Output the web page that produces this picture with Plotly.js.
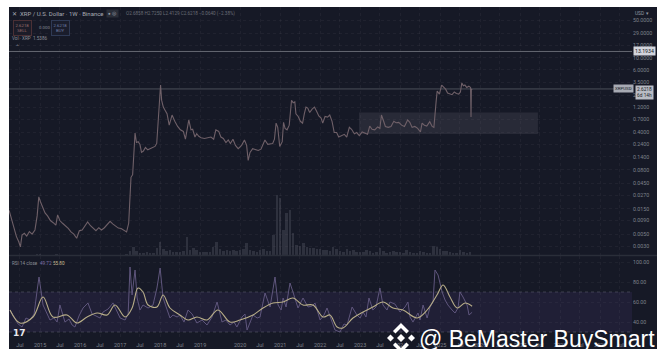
<!DOCTYPE html>
<html>
<head>
<meta charset="utf-8">
<script src="https://cdn.plot.ly/plotly-3.0.1.min.js"></script>
<style>
html,body{margin:0;padding:0;background:#ffffff;}
#chart{width:665px;height:361px;}
</style>
</head>
<body>
<div id="chart"></div>
<script>
// ---------------- DATA ----------------
const priceDates = ['2014-03-24','2014-04-15','2014-05-10','2014-05-30','2014-06-20','2014-07-05','2014-07-20','2014-08-10','2014-09-01','2014-09-25','2014-10-20','2014-11-15','2014-12-05','2014-12-20',
'2015-01-05','2015-01-25','2015-02-15','2015-03-10','2015-04-05','2015-05-01','2015-05-25','2015-06-10','2015-06-30','2015-07-25','2015-08-20','2015-09-15','2015-10-10','2015-11-05','2015-12-01','2015-12-25',
'2016-01-20','2016-02-15','2016-03-10','2016-04-05','2016-05-01','2016-05-25','2016-06-20','2016-07-15','2016-08-10','2016-09-05','2016-10-01','2016-10-25','2016-11-20','2016-12-15',
'2017-01-10','2017-02-05','2017-03-01','2017-03-20','2017-04-01','2017-04-10','2017-04-25','2017-05-10','2017-05-17','2017-05-30','2017-06-15','2017-07-01','2017-07-15','2017-08-01','2017-08-20','2017-09-10','2017-10-01','2017-10-20','2017-11-15','2017-12-01','2017-12-15','2017-12-25',
'2018-01-05','2018-01-15','2018-01-30','2018-02-15','2018-03-05','2018-03-25','2018-04-20','2018-05-15','2018-06-10','2018-07-05','2018-08-01','2018-08-20','2018-09-20','2018-10-10','2018-10-25','2018-11-15','2018-12-01','2018-12-20',
'2019-01-10','2019-02-10','2019-03-10','2019-04-10','2019-05-05','2019-05-25','2019-06-20','2019-07-10','2019-08-01','2019-08-25','2019-09-15','2019-10-05','2019-10-28','2019-11-20','2019-12-15',
'2020-01-15','2020-02-10','2020-03-01','2020-03-15','2020-04-01','2020-04-25','2020-05-20','2020-06-15','2020-07-10','2020-07-30','2020-08-15','2020-09-10','2020-10-05','2020-10-25','2020-11-10','2020-11-25','2020-12-10','2020-12-28',
'2021-01-20','2021-02-01','2021-02-15','2021-03-05','2021-03-25','2021-04-05','2021-04-15','2021-04-30','2021-05-15','2021-05-25','2021-06-15','2021-07-05','2021-07-25','2021-08-10','2021-08-25','2021-09-10','2021-09-28','2021-10-20','2021-11-10','2021-11-30','2021-12-20',
'2022-01-10','2022-01-25','2022-02-15','2022-03-10','2022-03-30','2022-04-20','2022-05-10','2022-06-01','2022-06-20','2022-07-15','2022-08-10','2022-09-01','2022-09-25','2022-10-15','2022-11-10','2022-12-01','2022-12-25',
'2023-01-20','2023-02-15','2023-03-10','2023-03-30','2023-04-20','2023-05-15','2023-06-10','2023-07-01','2023-07-15','2023-08-01','2023-08-20','2023-09-15','2023-10-10','2023-11-05','2023-11-25','2023-12-20',
'2024-01-15','2024-02-10','2024-03-10','2024-03-30','2024-04-20','2024-05-15','2024-06-10','2024-07-05','2024-07-20','2024-08-10','2024-09-01','2024-09-28','2024-10-20','2024-11-05','2024-11-15','2024-11-25','2024-12-05','2024-12-25',
'2025-01-15','2025-02-01','2025-02-20','2025-03-10','2025-03-30','2025-04-20','2025-05-10','2025-05-30','2025-06-20','2025-07-05','2025-07-18','2025-08-01','2025-08-15','2025-09-01','2025-09-20','2025-10-06','2025-10-10','2025-10-13','2025-10-20'];
const priceValues = [0.0140,0.0095,0.0060,0.0045,0.0036,0.0029,0.0048,0.0052,0.0046,0.0056,0.0050,0.0060,0.0110,0.0250,
0.0200,0.0160,0.0125,0.0110,0.0090,0.0082,0.0074,0.0115,0.0090,0.0080,0.0072,0.0064,0.0055,0.0050,0.0042,0.0058,
0.0060,0.0072,0.0085,0.0072,0.0065,0.0058,0.0066,0.0060,0.0066,0.0075,0.0087,0.0078,0.0070,0.0065,
0.0064,0.0060,0.0055,0.0080,0.0330,0.0580,0.0650,0.2500,0.3900,0.2600,0.2700,0.2400,0.1700,0.1800,0.2100,0.1900,0.2000,0.2100,0.2200,0.2500,0.7500,1.1000,
3.1000,1.6000,1.2000,1.0500,0.9000,0.5500,0.8500,0.6500,0.5200,0.4500,0.4200,0.3000,0.6900,0.4500,0.4600,0.3300,0.3800,0.3400,
0.3200,0.3100,0.3200,0.3300,0.3000,0.4500,0.4200,0.3300,0.3100,0.2600,0.2900,0.2500,0.3000,0.2300,0.2000,
0.2300,0.2900,0.2300,0.1200,0.1700,0.2000,0.1950,0.1850,0.1950,0.2500,0.2900,0.2400,0.2500,0.2500,0.3000,0.6000,0.5000,0.2200,
0.2700,0.6200,0.4800,0.4500,0.5500,1.0000,1.6000,1.4500,1.5000,0.9000,0.8000,0.6500,0.6000,0.9000,1.2000,1.1500,0.9500,1.1000,1.2000,1.0000,0.8200,
0.7500,0.6000,0.8000,0.7800,0.8500,0.6500,0.4000,0.4000,0.3300,0.3500,0.3700,0.3300,0.5000,0.4600,0.3800,0.4000,0.3500,
0.4100,0.3900,0.3700,0.5300,0.4600,0.4500,0.5100,0.4800,0.8500,0.6800,0.5200,0.5000,0.5200,0.6500,0.6100,0.6200,
0.5500,0.5200,0.6900,0.6200,0.5000,0.5200,0.4800,0.4100,0.6000,0.5500,0.5300,0.6400,0.5200,0.5000,1.1000,1.5000,2.4000,2.1000,
3.1000,2.9000,2.6000,2.2000,2.1000,2.0500,2.3000,2.1500,2.1000,2.3000,3.4000,3.0000,3.1000,2.8000,2.9500,2.8000,0.7800,2.5000,2.6218];

const volDates = ['2014-04','2014-05','2014-06','2014-07','2014-08','2014-09','2014-10','2014-11','2014-12',
'2015-01','2015-02','2015-03','2015-04','2015-05','2015-06','2015-07','2015-08','2015-09','2015-10','2015-11','2015-12',
'2016-01','2016-02','2016-03','2016-04','2016-05','2016-06','2016-07','2016-08','2016-09','2016-10','2016-11','2016-12',
'2017-01','2017-02','2017-03','2017-04','2017-05','2017-06','2017-07','2017-08','2017-09','2017-10','2017-11','2017-12',
'2018-01','2018-02','2018-03','2018-04','2018-05','2018-06','2018-07','2018-08','2018-09','2018-10','2018-11','2018-12',
'2019-01','2019-02','2019-03','2019-04','2019-05','2019-06','2019-07','2019-08','2019-09','2019-10','2019-11','2019-12',
'2020-01','2020-02','2020-03','2020-04','2020-05','2020-06','2020-07','2020-08','2020-09','2020-10','2020-11','2020-12',
'2021-01','2021-02','2021-03','2021-04','2021-05','2021-06','2021-07','2021-08','2021-09','2021-10','2021-11','2021-12',
'2022-01','2022-02','2022-03','2022-04','2022-05','2022-06','2022-07','2022-08','2022-09','2022-10','2022-11','2022-12',
'2023-01','2023-02','2023-03','2023-04','2023-05','2023-06','2023-07','2023-08','2023-09','2023-10','2023-11','2023-12',
'2024-01','2024-02','2024-03','2024-04','2024-05','2024-06','2024-07','2024-08','2024-09','2024-10','2024-11','2024-12',
'2025-01','2025-02','2025-03','2025-04','2025-05','2025-06','2025-07','2025-08','2025-09','2025-10'];
const volValues = [0.10,0.10,0.05,0.05,0.05,0.05,0.05,0.05,0.15,
0.15,0.10,0.10,0.10,0.10,0.15,0.10,0.10,0.10,0.10,0.10,0.10,
0.10,0.10,0.10,0.10,0.10,0.10,0.10,0.10,0.10,0.10,0.10,0.10,
0.10,0.10,0.30,0.80,1.60,0.80,0.50,0.50,0.60,0.40,0.50,1.40,
2.60,1.20,0.90,1.00,0.70,0.60,0.60,0.90,3.60,1.00,1.40,1.00,
0.70,0.60,0.60,0.70,1.60,2.60,1.20,0.80,1.00,0.90,1.00,0.90,
1.00,1.30,2.40,1.00,0.80,0.70,1.00,1.20,0.90,0.80,4.00,12.00,
11.40,5.00,8.40,9.00,4.40,2.00,1.80,2.40,1.60,1.40,1.40,1.20,
1.20,1.00,1.00,0.80,1.60,1.20,0.90,0.70,1.20,0.80,1.00,0.60,
0.70,0.60,1.00,0.80,0.50,0.70,1.40,0.80,0.50,0.60,0.80,0.60,
0.60,0.50,1.00,0.70,0.40,0.40,0.80,0.60,0.50,0.50,1.80,1.60,
1.20,0.90,0.80,0.60,0.50,0.40,1.00,0.70,0.50,0.70];

const rsiDates = ['2014-04-01','2014-05-08','2014-06-14','2014-07-20','2014-08-25','2014-10-01','2014-11-07','2014-12-03','2014-12-22',
'2015-01-28','2015-03-05','2015-04-01','2015-05-08','2015-06-05','2015-07-01','2015-08-16','2015-09-22','2015-10-20','2015-11-15','2015-12-22',
'2016-01-28','2016-03-13','2016-04-20','2016-06-05','2016-07-01','2016-07-29','2016-09-13','2016-10-28','2016-12-03',
'2017-01-01','2017-02-15','2017-03-15','2017-04-01','2017-04-20','2017-05-17','2017-06-05','2017-07-01','2017-07-29','2017-09-13','2017-10-28','2017-12-03',
'2018-01-01','2018-01-28','2018-03-05','2018-04-01','2018-04-28','2018-06-05','2018-07-01','2018-08-07','2018-09-13','2018-10-20','2018-12-03',
'2019-01-19','2019-03-05','2019-04-20','2019-06-05','2019-07-20','2019-08-25','2019-10-01','2019-11-07','2019-12-03',
'2020-01-19','2020-02-15','2020-03-05','2020-04-01','2020-04-28','2020-06-05','2020-07-01','2020-08-16','2020-10-01','2020-11-15','2020-12-13',
'2021-01-10','2021-01-28','2021-02-24','2021-04-01','2021-04-28','2021-06-13','2021-07-29','2021-09-13','2021-10-20','2021-11-15',
'2022-01-01','2022-02-06','2022-03-05','2022-04-01','2022-05-17','2022-07-01','2022-08-07','2022-09-04','2022-10-20','2022-12-03',
'2023-01-01','2023-01-28','2023-02-24','2023-03-23','2023-04-28','2023-05-26','2023-07-01','2023-07-29','2023-09-04','2023-10-01','2023-11-15',
'2024-01-01','2024-02-15','2024-03-13','2024-04-01','2024-04-28','2024-06-13','2024-07-01','2024-07-29','2024-09-04','2024-10-01','2024-10-28','2024-11-15','2024-12-13',
'2025-01-19','2025-02-15','2025-03-13','2025-04-20','2025-05-17','2025-06-13','2025-07-01','2025-07-29','2025-09-04','2025-09-22','2025-10-20'];
const rsiValues = [52,45,38,35,44,42,48,70,85,
57,48,42,44,40,57,40,43,37,35,46,
54,59,48,45,44,50,53,59,50,
44,42,48,95,67,92,64,52,57,54,57,74,
94,64,52,44,47,45,47,40,52,48,39,
42,37,45,60,40,42,37,40,35,
45,48,32,40,47,44,45,69,55,85,57,
52,64,55,79,70,54,64,55,56,59,
42,47,54,45,32,30,38,37,55,47,
44,50,45,64,52,55,74,57,52,60,58,
50,55,60,45,40,49,42,57,44,55,60,92,87,
70,62,57,52,49,54,70,65,57,47,49.72];

const rsiMaDates = ['2014-04-01','2014-07-01','2014-10-28','2015-01-28','2015-04-28','2015-09-04','2015-12-03','2016-03-05','2016-06-05','2016-09-04','2016-11-15',
'2017-02-15','2017-04-20','2017-06-13','2017-07-29','2017-09-13','2017-12-03','2018-01-28','2018-04-01','2018-07-01','2018-09-13','2018-12-03',
'2019-03-05','2019-06-13','2019-10-01','2020-01-01','2020-04-28','2020-07-29','2020-10-28','2021-01-28','2021-04-28','2021-07-29','2021-10-28',
'2022-01-28','2022-04-01','2022-06-05','2022-07-29','2022-10-28','2023-01-28','2023-04-28','2023-07-29','2023-10-28','2024-01-28','2024-06-05','2024-09-04',
'2024-12-03','2025-01-28','2025-04-01','2025-06-05','2025-08-16','2025-10-20'];
const rsiMaValues = [52,39,45,65,45,47,39,45,49,47,57,
45,54,74,70,57,55,67,54,47,42,45,
42,52,40,42,47,54,59,60,64,57,57,
45,47,35,34,44,50,55,60,54,52,44,52,
67,77,65,54,59,55.8];

const resistanceLevel = 13.1934;
const lastPrice = 2.6218;
const zoneStart = '2022-12-22', zoneEnd = '2027-06-13', zoneLow = 0.376, zoneHigh = 0.95;

const priceTickVals = [0.003,0.005,0.009,0.015,0.027,0.045,0.08,0.14,0.24,0.4,0.7,1.2,2,3.5,6,10,17,29,50];
const priceTickText = ['0.0030','0.0050','0.0090','0.0150','0.0270','0.0450','0.0800','0.1400','0.2400','0.4000','0.7000','1.2000','2.0000','3.5000','6.0000','10.0000','17.0000','29.0000','50.0000'];
const rsiTickVals = [40,60,80,100];
const rsiTickText = ['40.00','60.00','80.00','100.00'];
const timeTickVals = ['2014-07-01','2015-01-01','2015-07-01','2016-01-01','2016-07-01','2017-01-01','2017-07-01','2018-01-01','2018-07-01','2019-01-01',
'2020-01-01','2020-07-01','2021-01-01','2021-07-01','2022-01-01','2022-07-01','2023-01-01','2023-07-01','2024-01-01','2024-07-01','2025-01-01','2025-07-01',
'2026-01-01','2026-07-01','2027-01-01','2027-07-01','2028-01-01','2028-07-01','2029-01-01','2029-07-01'];
const timeTickText = ['Jul','2015','Jul','2016','Jul','2017','Jul','2018','Jul','2019',
'2020','Jul','2021','Jul','2022','Jul','2023','Jul','2024','Jul','2025','Jul',
'2026','Jul','2027','Jul','2028','Jul','2029','Jul'];

const xRange = ['2014-03-23','2029-10-19'];

// ---------------- LAYOUT HELPERS (page pixels -> paper) ----------------
const PL = 9, PR = 632, PT = 7, PB = 340;
const PX = x => (x - PL) / (PR - PL);
const PY = y => (PB - y) / (PB - PT);
const FONT = 'Roboto, "Liberation Sans", sans-serif';
const AX = '#7f828c';

const traces = [
  {x:[zoneStart,zoneEnd,zoneEnd,zoneStart,zoneStart], y:[zoneLow,zoneLow,zoneHigh,zoneHigh,zoneLow], type:'scatter', mode:'lines',
   fill:'toself', fillcolor:'rgba(120,123,134,0.18)', line:{width:0}, xaxis:'x', yaxis:'y', hoverinfo:'skip'},
  {x:volDates, y:volValues, type:'bar', xaxis:'x', yaxis:'y3', marker:{color:'rgba(110,112,125,0.28)', line:{width:0}},
   width: 22*86400000},
  {x:xRange, y:[resistanceLevel,resistanceLevel], type:'scatter', mode:'lines', line:{color:'#646771', width:1}, xaxis:'x', yaxis:'y'},
  {x:xRange, y:[lastPrice,lastPrice], type:'scatter', mode:'lines', line:{color:'#4c4f5a', width:1}, xaxis:'x', yaxis:'y'},
  {x:priceDates, y:priceValues, type:'scatter', mode:'lines', line:{color:'#6f6068', width:1.1}, xaxis:'x', yaxis:'y'},
  {x:rsiDates, y:rsiValues, type:'scatter', mode:'lines', line:{color:'#5f567d', width:1}, xaxis:'x', yaxis:'y2'},
  {x:rsiMaDates, y:rsiMaValues, type:'scatter', mode:'lines', line:{color:'#b8ae88', width:1.1, shape:'spline', smoothing:1}, xaxis:'x', yaxis:'y2'}
];

function poly(pts){ return 'M' + pts.map(p => PX(p[0]).toFixed(5) + ',' + PY(p[1]).toFixed(5)).join('L') + 'Z'; }
const cx = 401, cy = 338;
const logo = [
  [[cx,cy-4],[cx+4,cy],[cx,cy+4],[cx-4,cy]],
  [[cx-10.5,cy-3.5],[cx-7,cy],[cx-10.5,cy+3.5],[cx-14,cy]],
  [[cx+10.5,cy-3.5],[cx+14,cy],[cx+10.5,cy+3.5],[cx+7,cy]],
  [[cx,cy-15],[cx+8,cy-7],[cx+5.5,cy-4.5],[cx,cy-10],[cx-5.5,cy-4.5],[cx-8,cy-7]],
  [[cx,cy+15],[cx+8,cy+7],[cx+5.5,cy+4.5],[cx,cy+10],[cx-5.5,cy+4.5],[cx-8,cy+7]]
];

const shapes = [
  {type:'rect', xref:'paper', yref:'paper', x0:PX(9), x1:PX(657), y0:PY(349), y1:PY(7), fillcolor:'#161926', line:{width:0}, layer:'below'},
  {type:'rect', xref:'paper', yref:'y2', x0:0, x1:1, y0:30, y1:70, fillcolor:'rgba(126,87,194,0.10)', line:{width:0}, layer:'below'},
  {type:'line', xref:'paper', yref:'y2', x0:0, x1:1, y0:70, y1:70, line:{color:'rgba(120,123,134,0.40)', width:1, dash:'dot'}},
  {type:'line', xref:'paper', yref:'y2', x0:0, x1:1, y0:30, y1:30, line:{color:'rgba(120,123,134,0.40)', width:1, dash:'dot'}},
  {type:'line', xref:'paper', yref:'paper', x0:PX(9), x1:PX(657), y0:PY(255.5), y1:PY(255.5), line:{color:'#2a2e39', width:1.5}}
].concat(logo.map(p => ({type:'path', xref:'paper', yref:'paper', path:poly(p), fillcolor:'#ffffff', line:{width:0}, layer:'above'})));

function ann(text, x, y, size, color, extra){
  return Object.assign({text:text, xref:'paper', yref:'paper', x:PX(x), y:PY(y), xanchor:'left', yanchor:'middle', showarrow:false,
    font:{family:FONT, size:size, color:color}}, extra||{});
}

const annotations = [
  ann('✕  XRP / U.S. Dollar · 1W · Binance', 10, 14, 6, '#a6a9b2'),
  ann('● ◎', 106, 14, 4.5, '#9a9da6', {bgcolor:'#2a2e39', borderpad:1}),
  ann('O2.6858 H2.7250 L2.4129 C2.6218 −0.0640 (−2.38%)', 124, 14, 4.6, '#6a6d77'),
  ann('2.6218<br>SELL', 13, 27.5, 4.3, '#9b6f6f', {bordercolor:'#4a3035', borderwidth:1, borderpad:1.5, bgcolor:'#1c1c28'}),
  ann('0.000', 37, 27.5, 4.3, '#8a8d96'),
  ann('2.6218<br>BUY', 51, 27.5, 4.3, '#6f7fa8', {bordercolor:'#2f3a55', borderwidth:1, borderpad:1.5, bgcolor:'#1a1d2c'}),
  ann('Vol · XRP  1.5386', 10, 38, 4.6, '#8a8d96'),
  ann('⌃', 13, 47, 6, '#8a8d96'),
  ann('USD  ▾', 633, 13, 4.8, '#9598a1'),
  {text:'13.1934', xref:'paper', yref:'y', x:PX(644), y:Math.log10(resistanceLevel), xanchor:'center', yanchor:'middle', showarrow:false,
   font:{family:FONT, size:5.2, color:'#131722'}, bgcolor:'#d1d4dc', borderpad:1},
  {text:'XRPUSD', xref:'paper', yref:'y', x:PX(623), y:Math.log10(lastPrice), xanchor:'center', yanchor:'middle', showarrow:false,
   font:{family:FONT, size:4.4, color:'#131722'}, bgcolor:'#a7aab3', borderpad:1},
  {text:'2.6218<br>6d 14h', xref:'paper', yref:'y', x:PX(644), y:Math.log10(lastPrice), xanchor:'center', yanchor:'top', yshift:4, showarrow:false,
   font:{family:FONT, size:4.8, color:'#1a1d28'}, bgcolor:'#b8bbc4', borderpad:1},
  ann('RSI 14 close', 10, 263, 4.6, '#8a8d96'),
  ann('49.72', 38, 263, 4.6, '#7f72aa'),
  ann('55.80', 51, 263, 4.6, '#c9bf95'),
  ann('<b>17</b>', 11, 333, 9, '#e8e8ee', {font:{family:'"DejaVu Sans", sans-serif', size:9, color:'#e8e8ee'}}),
  ann('@ BeMaster BuySmart', 417, 339, 23, '#ffffff', {font:{family:'"Liberation Sans", Arial, sans-serif', size:23, color:'#ffffff'}})
];

const layout = {
  width:665, height:361,
  margin:{l:PL, r:665-PR, t:PT, b:361-PB, pad:0},
  paper_bgcolor:'#ffffff', plot_bgcolor:'rgba(0,0,0,0)',
  showlegend:false, bargap:0,
  font:{family:FONT, color:AX},
  xaxis:{type:'date', range:xRange, anchor:'y2', tickvals:timeTickVals, ticktext:timeTickText, tickfont:{size:5.5, color:AX},
    showgrid:true, gridcolor:'rgba(255,255,255,0.045)', griddash:'dot', zeroline:false, showline:false, ticks:'', ticklen:0},
  yaxis:{type:'log', domain:[PY(255), 1], range:[-2.691, 1.953], side:'right', tickvals:priceTickVals, ticktext:priceTickText,
    tickfont:{size:5.3, color:AX}, showgrid:true, gridcolor:'rgba(255,255,255,0.045)', griddash:'dot', zeroline:false, showline:false, ticks:'', ticklen:4, tickcolor:'rgba(0,0,0,0)'},
  yaxis2:{domain:[0, PY(256)], range:[22, 106], side:'right', tickvals:rsiTickVals, ticktext:rsiTickText,
    tickfont:{size:5.3, color:AX}, showgrid:true, gridcolor:'rgba(255,255,255,0.04)', griddash:'dot', zeroline:false, showline:false, ticks:'', ticklen:4, tickcolor:'rgba(0,0,0,0)'},
  yaxis3:{overlaying:'y', range:[0, 50], visible:false, showgrid:false, zeroline:false},
  shapes:shapes,
  annotations:annotations
};

Plotly.newPlot('chart', traces, layout, {staticPlot:true, displayModeBar:false});
</script>
</body>
</html>
